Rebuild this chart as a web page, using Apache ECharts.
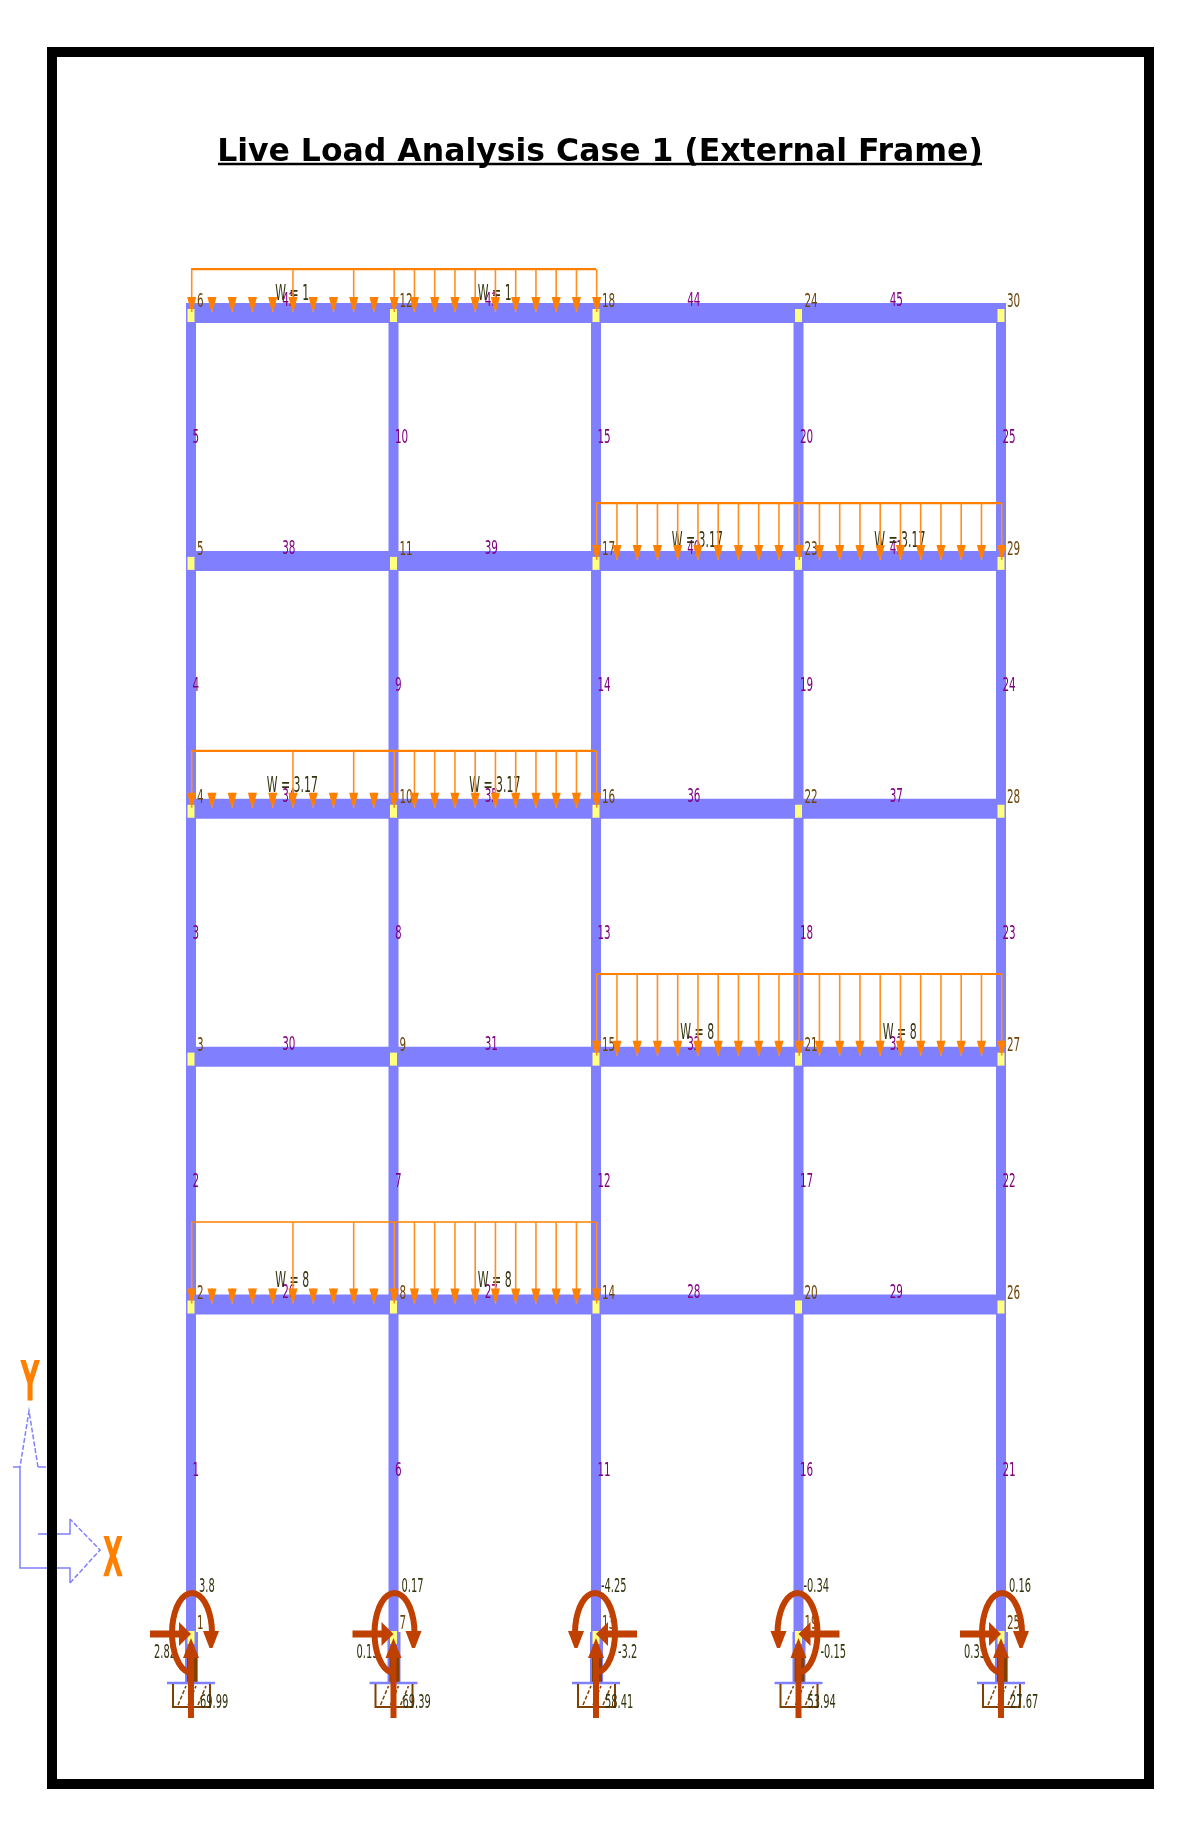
<!DOCTYPE html>
<html>
<head>
<meta charset="utf-8">
<title>Live Load Analysis Case 1 (External Frame)</title>
<style>
html, body { margin: 0; padding: 0; background: #fff; }
#main { width: 1200px; height: 1835px; }
</style>
<script src="https://cdn.jsdelivr.net/npm/echarts@6/dist/echarts.min.js"></script>
</head>
<body>
<div id="main"></div>
<script>
// frame geometry, metres
var columnX = [0, 5, 10, 15, 20];
var levelY = [0, 4, 7, 10, 13, 16];

// member and node numbers, bottom to top
var columnMembers = [
	[1, 2, 3, 4, 5],
	[6, 7, 8, 9, 10],
	[11, 12, 13, 14, 15],
	[16, 17, 18, 19, 20],
	[21, 22, 23, 24, 25]
];
var beamMembers = [
	[26, 27, 28, 29],
	[30, 31, 32, 33],
	[34, 35, 36, 37],
	[38, 39, 40, 41],
	[42, 43, 44, 45]
];
var nodeNumbers = [
	[1, 2, 3, 4, 5, 6],
	[7, 8, 9, 10, 11, 12],
	[13, 14, 15, 16, 17, 18],
	[19, 20, 21, 22, 23, 24],
	[25, 26, 27, 28, 29, 30]
];

// distributed loads, each one over two bays
var loadLevel = [16, 13, 10, 7, 4];
var loadStart = [0, 10, 0, 10, 0];
var loadValue = ['1', '3.17', '3.17', '8', '8'];
var loadRise = [0.53, 0.7, 0.7, 1, 1];
var arrowSteps = [0, 0.5, 1, 1.5, 2, 2.5, 3, 3.5, 4, 4.5, 5];
var leftBayShafts = [0, 2.5, 4, 5];

// support reactions
var reactionM = ['3.8', '0.17', '-4.25', '-0.34', '0.16'];
var reactionH = ['2.82', '0.13', '-3.2', '-0.15', '0.35'];
var reactionV = ['69.99', '69.39', '58.41', '53.94', '27.67'];

var BLUE = '#8080ff', ORANGE = '#ff8000', RUST = '#c04000', BROWN = '#804000';
var PURPLE = '#800080', NODE = '#6e4408', DARK = '#33330f';

function label(x, y, text, size, fill, align) {
	return {
		type: 'text', x: x, y: y, scaleX: 0.52,
		style: { text: String(text), fontFamily: 'DejaVu Sans', fontSize: size, fill: fill, align: align || 'left', verticalAlign: 'middle' }
	};
}
function poly(points, fill) {
	return { type: 'polygon', shape: { points: points }, style: { fill: fill } };
}
function seg(x1, y1, x2, y2, color, width, dash) {
	return {
		type: 'line', shape: { x1: x1, y1: y1, x2: x2, y2: y2 },
		style: { stroke: color, lineWidth: width, lineDash: dash || null }
	};
}
function customSeries(data, draw) {
	return {
		type: 'custom', coordinateSystem: 'cartesian2d', clip: false, silent: true,
		data: data, encode: { x: 0, y: 1 }, renderItem: draw
	};
}
function triad(points, dash) {
	return { type: 'polyline', z: 10, shape: { points: points }, style: { stroke: BLUE, lineWidth: 1.5, fill: null, lineDash: dash || null } };
}

var memberData = [], memberLabelData = [], nodeData = [];
columnX.forEach(function(x, c) {
	columnMembers[c].forEach(function(no, i) {
		memberData.push([x, levelY[i], x, levelY[i + 1], 0]);
		memberLabelData.push([x, (levelY[i] + levelY[i + 1]) / 2, no, 0]);
	});
	nodeNumbers[c].forEach(function(no, i) {
		nodeData.push([x, levelY[i], no]);
	});
});
beamMembers.forEach(function(row, i) {
	row.forEach(function(no, b) {
		memberData.push([columnX[b], levelY[i + 1], columnX[b + 1], levelY[i + 1], 1]);
		memberLabelData.push([(columnX[b] + columnX[b + 1]) / 2, levelY[i + 1], no, 1]);
	});
});

var loadData = [];
loadLevel.forEach(function(level, i) {
	loadData.push([loadStart[i], level, loadRise[i], i]);
});
var supportData = columnX.map(function(x, c) {
	return [x, 0, c];
});

var option = {
	animation: false,
	backgroundColor: '#fff',
	title: {
		text: 'Live Load Analysis Case 1 (External Frame)',
		left: 'center', top: 132,
		textStyle: { fontFamily: 'DejaVu Sans', fontWeight: 'bold', fontSize: 31.5, color: '#000' }
	},
	grid: { left: 191, top: 313, width: 810, height: 1322 },
	xAxis: { type: 'value', min: 0, max: 20, show: false },
	yAxis: { type: 'value', min: 0, max: 16, show: false },
	graphic: [
		// title underline
		{ type: 'line', z: 10, shape: { x1: 218, y1: 164, x2: 982, y2: 164 }, style: { stroke: '#000', lineWidth: 2.5 } },
		// axis triad
		triad([[46, 1467], [38, 1467]]),
		triad([[38, 1467], [29, 1411], [20, 1467]], [5, 2]),
		triad([[20, 1467], [13, 1467], [20, 1467], [20, 1568], [70, 1568], [70, 1583]]),
		triad([[70, 1583], [100, 1550], [70, 1519]], [5, 2]),
		triad([[70, 1519], [70, 1534], [38, 1534]]),
		{ type: 'text', z: 10, x: 30, y: 1386, scaleX: 0.48, style: { text: 'Y', fontFamily: 'DejaVu Sans', fontWeight: 'bold', fontSize: 55, fill: ORANGE, align: 'center', verticalAlign: 'middle' } },
		{ type: 'text', z: 10, x: 113, y: 1562, scaleX: 0.48, style: { text: 'X', fontFamily: 'DejaVu Sans', fontWeight: 'bold', fontSize: 55, fill: ORANGE, align: 'center', verticalAlign: 'middle' } },
		// drawing border
		{ type: 'rect', z: 11, shape: { x: 52, y: 52, width: 1097, height: 1732 }, style: { stroke: '#000', lineWidth: 10, fill: null } }
	],
	series: [
		// columns and beams
		customSeries(memberData, function(params, api) {
			var a = api.coord([api.value(0), api.value(1)]);
			var b = api.coord([api.value(2), api.value(3)]);
			if (api.value(4)) {
				return { type: 'rect', shape: { x: a[0] - 5, y: a[1] - 10, width: b[0] - a[0] + 10, height: 20 }, style: { fill: BLUE } };
			}
			return { type: 'rect', shape: { x: a[0] - 5, y: b[1], width: 10, height: a[1] - b[1] }, style: { fill: BLUE } };
		}),
		// footing
		customSeries(supportData, function(params, api) {
			var p = api.coord([api.value(0), api.value(1)]);
			var x = p[0], y = p[1];
			return {
				type: 'group',
				children: [
					{ type: 'rect', shape: { x: x - 6, y: y - 3, width: 13, height: 51 }, style: { fill: BLUE } },
					{ type: 'rect', shape: { x: x - 4, y: y + 22, width: 10, height: 26 }, style: { fill: BROWN } },
					seg(x - 24, y + 48, x + 24, y + 48, BLUE, 2.5),
					{ type: 'polyline', shape: { points: [[x - 18, y + 49], [x - 18, y + 72], [x + 19, y + 72], [x + 19, y + 49]] }, style: { stroke: BROWN, lineWidth: 2, fill: null } },
					seg(x - 13, y + 70, x - 5, y + 51, BROWN, 1.5, [4, 2]),
					seg(x - 3, y + 70, x + 5, y + 51, BROWN, 1.5, [4, 2]),
					seg(x + 7, y + 70, x + 15, y + 51, BROWN, 1.5, [4, 2])
				]
			};
		}),
		// nodes
		customSeries(nodeData, function(params, api) {
			var p = api.coord([api.value(0), api.value(1)]);
			return {
				type: 'group',
				children: [
					{ type: 'rect', shape: { x: p[0] - 3.5, y: p[1] - 4, width: 7, height: 13 }, style: { fill: '#ffff80' } },
					label(p[0] + 6, p[1] - 11, api.value(2), 20, NODE)
				]
			};
		}),
		// member numbers
		customSeries(memberLabelData, function(params, api) {
			var p = api.coord([api.value(0), api.value(1)]);
			if (api.value(3)) return label(p[0] - 10, p[1] - 12, api.value(2), 20, PURPLE);
			return label(p[0] + 1.5, p[1] + 1, api.value(2), 20, PURPLE);
		}),
		// load values, one on each loaded bay
		customSeries(loadData, function(params, api) {
			var p = api.coord([api.value(0), api.value(1)]);
			var q = api.coord([api.value(0) + 2.5, api.value(1)]);
			var r = api.coord([api.value(0) + 7.5, api.value(1)]);
			var text = 'W = ' + loadValue[api.value(3)];
			var gap = [18, 19, 22, 23, 23][api.value(3)];
			return {
				type: 'group',
				children: [label(q[0], p[1] - gap, text, 21, DARK, 'center'), label(r[0], p[1] - gap, text, 21, DARK, 'center')]
			};
		}),
		// load arrows
		customSeries(loadData, function(params, api) {
			var x0 = api.value(0), level = api.value(1);
			var top = api.coord([x0, level + api.value(2)])[1];
			var tip = api.coord([x0, level])[1] - 1;
			var thin = level === 4;
			var children = [];
			var leftBay = x0 === 0;
			var steps = [];
			arrowSteps.forEach(function(s) { steps.push(s); });
			arrowSteps.slice(1).forEach(function(s) { steps.push(s + 5); });
			var first = api.coord([x0, level])[0], last = api.coord([x0 + 10, level])[0];
			children.push(seg(first, top, last, top, ORANGE, thin ? 1.5 : 2.2));
			steps.forEach(function(s) {
				var x = api.coord([x0 + s, level])[0] + 0.7;
				var hasShaft = !leftBay || s > 5 || leftBayShafts.indexOf(s) >= 0;
				var headTop = tip - 15;
				children.push(seg(x, hasShaft ? top : headTop, x, tip, '#ff9020', 1.6));
				children.push(poly([[x - 4.5, headTop], [x + 4.5, headTop], [x + 1.5, headTop + 12], [x - 1.5, headTop + 12]], ORANGE));
			});
			return { type: 'group', children: children };
		}),
		// reaction values
		customSeries(supportData, function(params, api) {
			var p = api.coord([api.value(0), api.value(1)]);
			var c = api.value(2), x = p[0], y = p[1];
			var negH = reactionH[c].charAt(0) === '-', negM = reactionM[c].charAt(0) === '-';
			return {
				type: 'group',
				children: [
					label(x + (negM ? 5 : 8), y - 48, reactionM[c], 19, DARK),
					label(x + (negH ? 22 : -37), y + 18, reactionH[c], 19, DARK),
					label(x + 9, y + 68, reactionV[c], 19, DARK)
				]
			};
		}),
		// reaction arrows
		customSeries(supportData, function(params, api) {
			var p = api.coord([api.value(0), api.value(1)]);
			var c = api.value(2), x = p[0], y = p[1];
			var d = reactionH[c].charAt(0) === '-' ? -1 : 1;
			var m = reactionM[c].charAt(0) === '-' ? -1 : 1;
			var arc = [];
			for (var a = 100; a <= 360; a += 10) {
				var t = a * Math.PI / 180;
				arc.push([x + m * (1 + 20 * Math.cos(t)), y - 2 + 40 * Math.sin(t)]);
			}
			var ax = x + m * 20;
			return {
				type: 'group',
				children: [
					{ type: 'polyline', shape: { points: arc }, style: { stroke: RUST, lineWidth: 6, fill: null } },
					poly([[ax - 8, y - 4], [ax + 8, y - 4], [ax + 1.5, y + 13], [ax - 1.5, y + 13]], RUST),
					seg(x - d * 41, y - 1, x - d * 10, y - 1, RUST, 7),
					poly([[x - d * 12, y - 13], [x - d * 12, y + 11], [x, y - 1]], RUST),
					seg(x, y + 83, x, y + 18, RUST, 6),
					poly([[x - 8, y + 23], [x + 8, y + 23], [x, y + 3]], RUST)
				]
			};
		})
	]
};

var myChart = echarts.init(document.getElementById('main'), null, { renderer: 'canvas' });
myChart.setOption(option);
</script>
</body>
</html>
